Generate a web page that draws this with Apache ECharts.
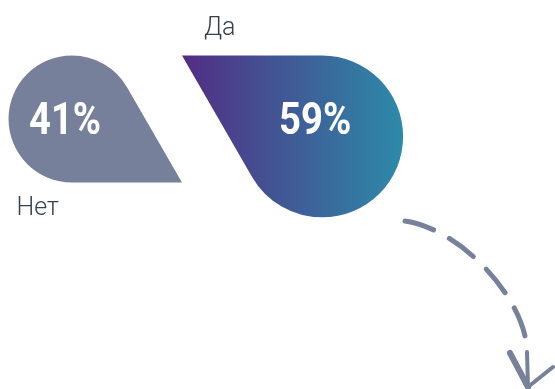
<!DOCTYPE html>
<html>
<head>
<meta charset="utf-8">
<script src="https://cdn.jsdelivr.net/npm/echarts@6/dist/echarts.min.js"></script>
<style>
html, body { margin: 0; padding: 0; background: #fff; }
#main { width: 555px; height: 389px; }
</style>
</head>
<body>
<div id="main"></div>
<script>
// данные опроса
var categories = ['Нет', 'Да'];
var values = [41, 59];
var percentLabels = ['41%', '59%'];

var myChart = echarts.init(document.getElementById('main'));

var anchorX = 182;   // где сходятся углы капель
var topY = 55.5;
var SQ3 = Math.sqrt(3);

// радиус капли по значению
function radiusOf(v) {
    return 5.34 * Math.pow(v, 2 / 3);
}

var grayColor = '#76809a';
var gradColor = new echarts.graphic.LinearGradient(0, 0, 1, 0, [
    { offset: 0, color: '#522d84' },
    { offset: 1, color: '#2d8aa9' }
]);

function renderDrop(params, api) {
    var i = params.dataIndex;
    var v = api.value(1);
    var r = radiusOf(v);
    var cx, cy, d, labelX, labelY;
    cy = topY + r;
    if (i === 0) {
        // угол снизу справа
        cx = anchorX - SQ3 * r;
        d = 'M' + anchorX + ' ' + (topY + 2 * r) +
            ' L' + cx + ' ' + (topY + 2 * r) +
            ' A' + r + ' ' + r + ' 0 1 1 ' + (cx + 0.866 * r) + ' ' + (cy - 0.5 * r) + ' Z';
        labelX = cx - r + 8;
        labelY = topY + 2 * r + 26;
    } else {
        // угол сверху слева
        cx = anchorX + SQ3 * r;
        d = 'M' + anchorX + ' ' + topY +
            ' L' + cx + ' ' + topY +
            ' A' + r + ' ' + r + ' 0 1 1 ' + (cx - 0.866 * r) + ' ' + (cy + 0.5 * r) + ' Z';
        labelX = anchorX + 22;
        labelY = topY - 27;
    }
    return {
        type: 'group',
        children: [{
            type: 'path',
            shape: { pathData: d },
            style: { fill: i === 0 ? grayColor : gradColor }
        }, {
            type: 'text',
            x: cx - 7,
            y: topY + 68,
            scaleX: 0.98,
            scaleY: 1.12,
            style: {
                text: percentLabels[i],
                x: 0,
                y: 0,
                align: 'center',
                verticalAlign: 'middle',
                fill: '#fff',
                fontFamily: 'Roboto',
                fontWeight: 'bold',
                fontSize: 39
            }
        }, {
            type: 'text',
            style: {
                text: categories[i],
                x: labelX,
                y: labelY,
                align: 'left',
                verticalAlign: 'middle',
                fill: '#33414c',
                fontFamily: 'Roboto',
                fontWeight: 300,
                fontSize: 25
            }
        }]
    };
}

var arrowColor = '#77819a';

var option = {
    animation: false,
    series: [{
        type: 'custom',
        coordinateSystem: 'none',
        renderItem: renderDrop,
        data: values.map(function (v, i) { return [i, v]; })
    }],
    graphic: [{
        type: 'bezierCurve',
        shape: { x1: 405, y1: 221, cpx1: 458, cpy1: 229, cpx2: 514, cpy2: 288, x2: 525, y2: 336 },
        style: { stroke: arrowColor, lineWidth: 5, lineDash: [30, 18], lineCap: 'round', fill: null }
    }, {
        type: 'polyline',
        shape: { points: [[510, 353], [528, 387]] },
        style: { stroke: arrowColor, lineWidth: 6, lineCap: 'round', fill: null }
    }, {
        type: 'polyline',
        shape: { points: [[527, 352], [528, 387]] },
        style: { stroke: arrowColor, lineWidth: 4, lineCap: 'round', fill: null }
    }, {
        type: 'polyline',
        shape: { points: [[553, 367], [528, 387]] },
        style: { stroke: arrowColor, lineWidth: 4, lineCap: 'round', fill: null }
    }]
};

myChart.setOption(option);
</script>
</body>
</html>
